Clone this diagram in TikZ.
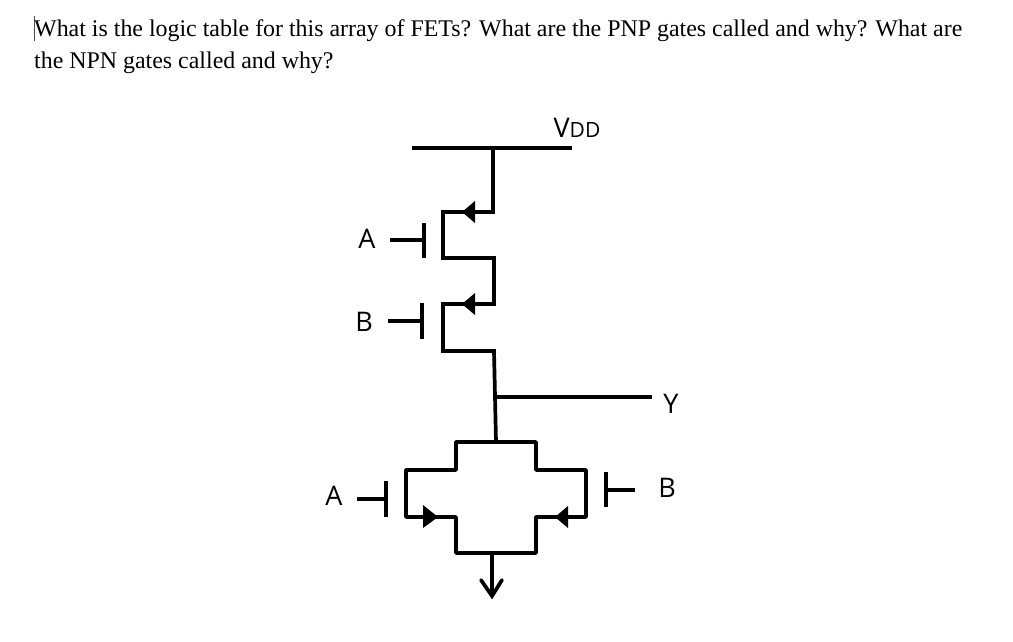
\documentclass[tikz,border=0pt]{standalone}
\usepackage{fontspec}
\setmainfont{Liberation Serif}
\setsansfont{Open Sans}
\tikzset{
  wire/.style={line width=3.7pt, line cap=round, line join=miter},
  gatebar/.style={line width=3.5pt},
  pin/.style={line width=3.1pt},
  tip/.style={fill=black},
  question/.style={anchor=base west, inner sep=0pt, font=\fontsize{23.9}{28}\selectfont},
  siglabel/.style={anchor=base, inner sep=0pt, font=\sffamily\fontsize{27}{30}\selectfont}
}
\begin{document}
\begin{tikzpicture}[x=1pt, y=-1pt]
\useasboundingbox (0,0) rectangle (1013,641);

% Question text
\draw[line width=0.8pt, black!70] (34,16) -- (34,41);
\node[question] (line1) at (34,36.5) {What is the logic table for this array of FETs? What are the PNP gates called and why? What are};
\node[question] (line2) at (34,68) {the NPN gates called and why?};

% Supply rail
\draw[wire, line cap=butt] (412,148) -- (572,148);
\node[siglabel] (vdd) at (577,137) {V{\fontsize{21}{24}\selectfont DD}};

% Upper pair, in series
\draw[wire] (493,148) -- (493,212) -- (443,212) -- (443,258) -- (494,258)
  -- (494,304) -- (443,304) -- (443,351) -- (494,351) -- (496,442);
\fill[tip] (462,212) -- (475,201) -- (475,223) -- cycle;
\fill[tip] (462,304) -- (475,293) -- (475,315) -- cycle;

% Gate A, upper
\draw[gatebar] (424,223) -- (424,258);
\draw[pin] (390,240) -- (424,240);
\node[siglabel] (inA) at (367,248) {A};

% Gate B, upper
\draw[gatebar] (422,303) -- (422,339);
\draw[pin] (388,321) -- (422,321);
\node[siglabel] (inB) at (364,331) {B};

% Output
\draw[pin] (496,397) -- (652,397);
\node[siglabel] (outY) at (671,413) {Y};

% Lower pair, in parallel
\draw[wire, line join=round] (496,442) -- (456,442) -- (456,470) -- (406,470) -- (406,517) -- (456,517)
  -- (456,553) -- (536,553) -- (536,517) -- (586,517) -- (586,470) -- (536,470) -- (536,442) -- (496,442);
\fill[tip] (438,517) -- (423,505) -- (423,528) -- cycle;
\fill[tip] (555,517) -- (568,506) -- (568,528) -- cycle;

% Gate A, lower
\draw[gatebar] (386,481) -- (386,517);
\draw[pin] (357,499) -- (386,499);
\node[siglabel] (lowA) at (334,505) {A};

% Gate B, lower
\draw[gatebar] (606,472) -- (606,507);
\draw[pin] (606,490) -- (635,490);
\node[siglabel] (lowB) at (667,497) {B};

% Ground arrow
\draw[wire, line cap=butt] (492,553) -- (492,596);
\draw[wire, line join=miter] (481,580) -- (492,596) -- (502,580);
\end{tikzpicture}
\end{document}
